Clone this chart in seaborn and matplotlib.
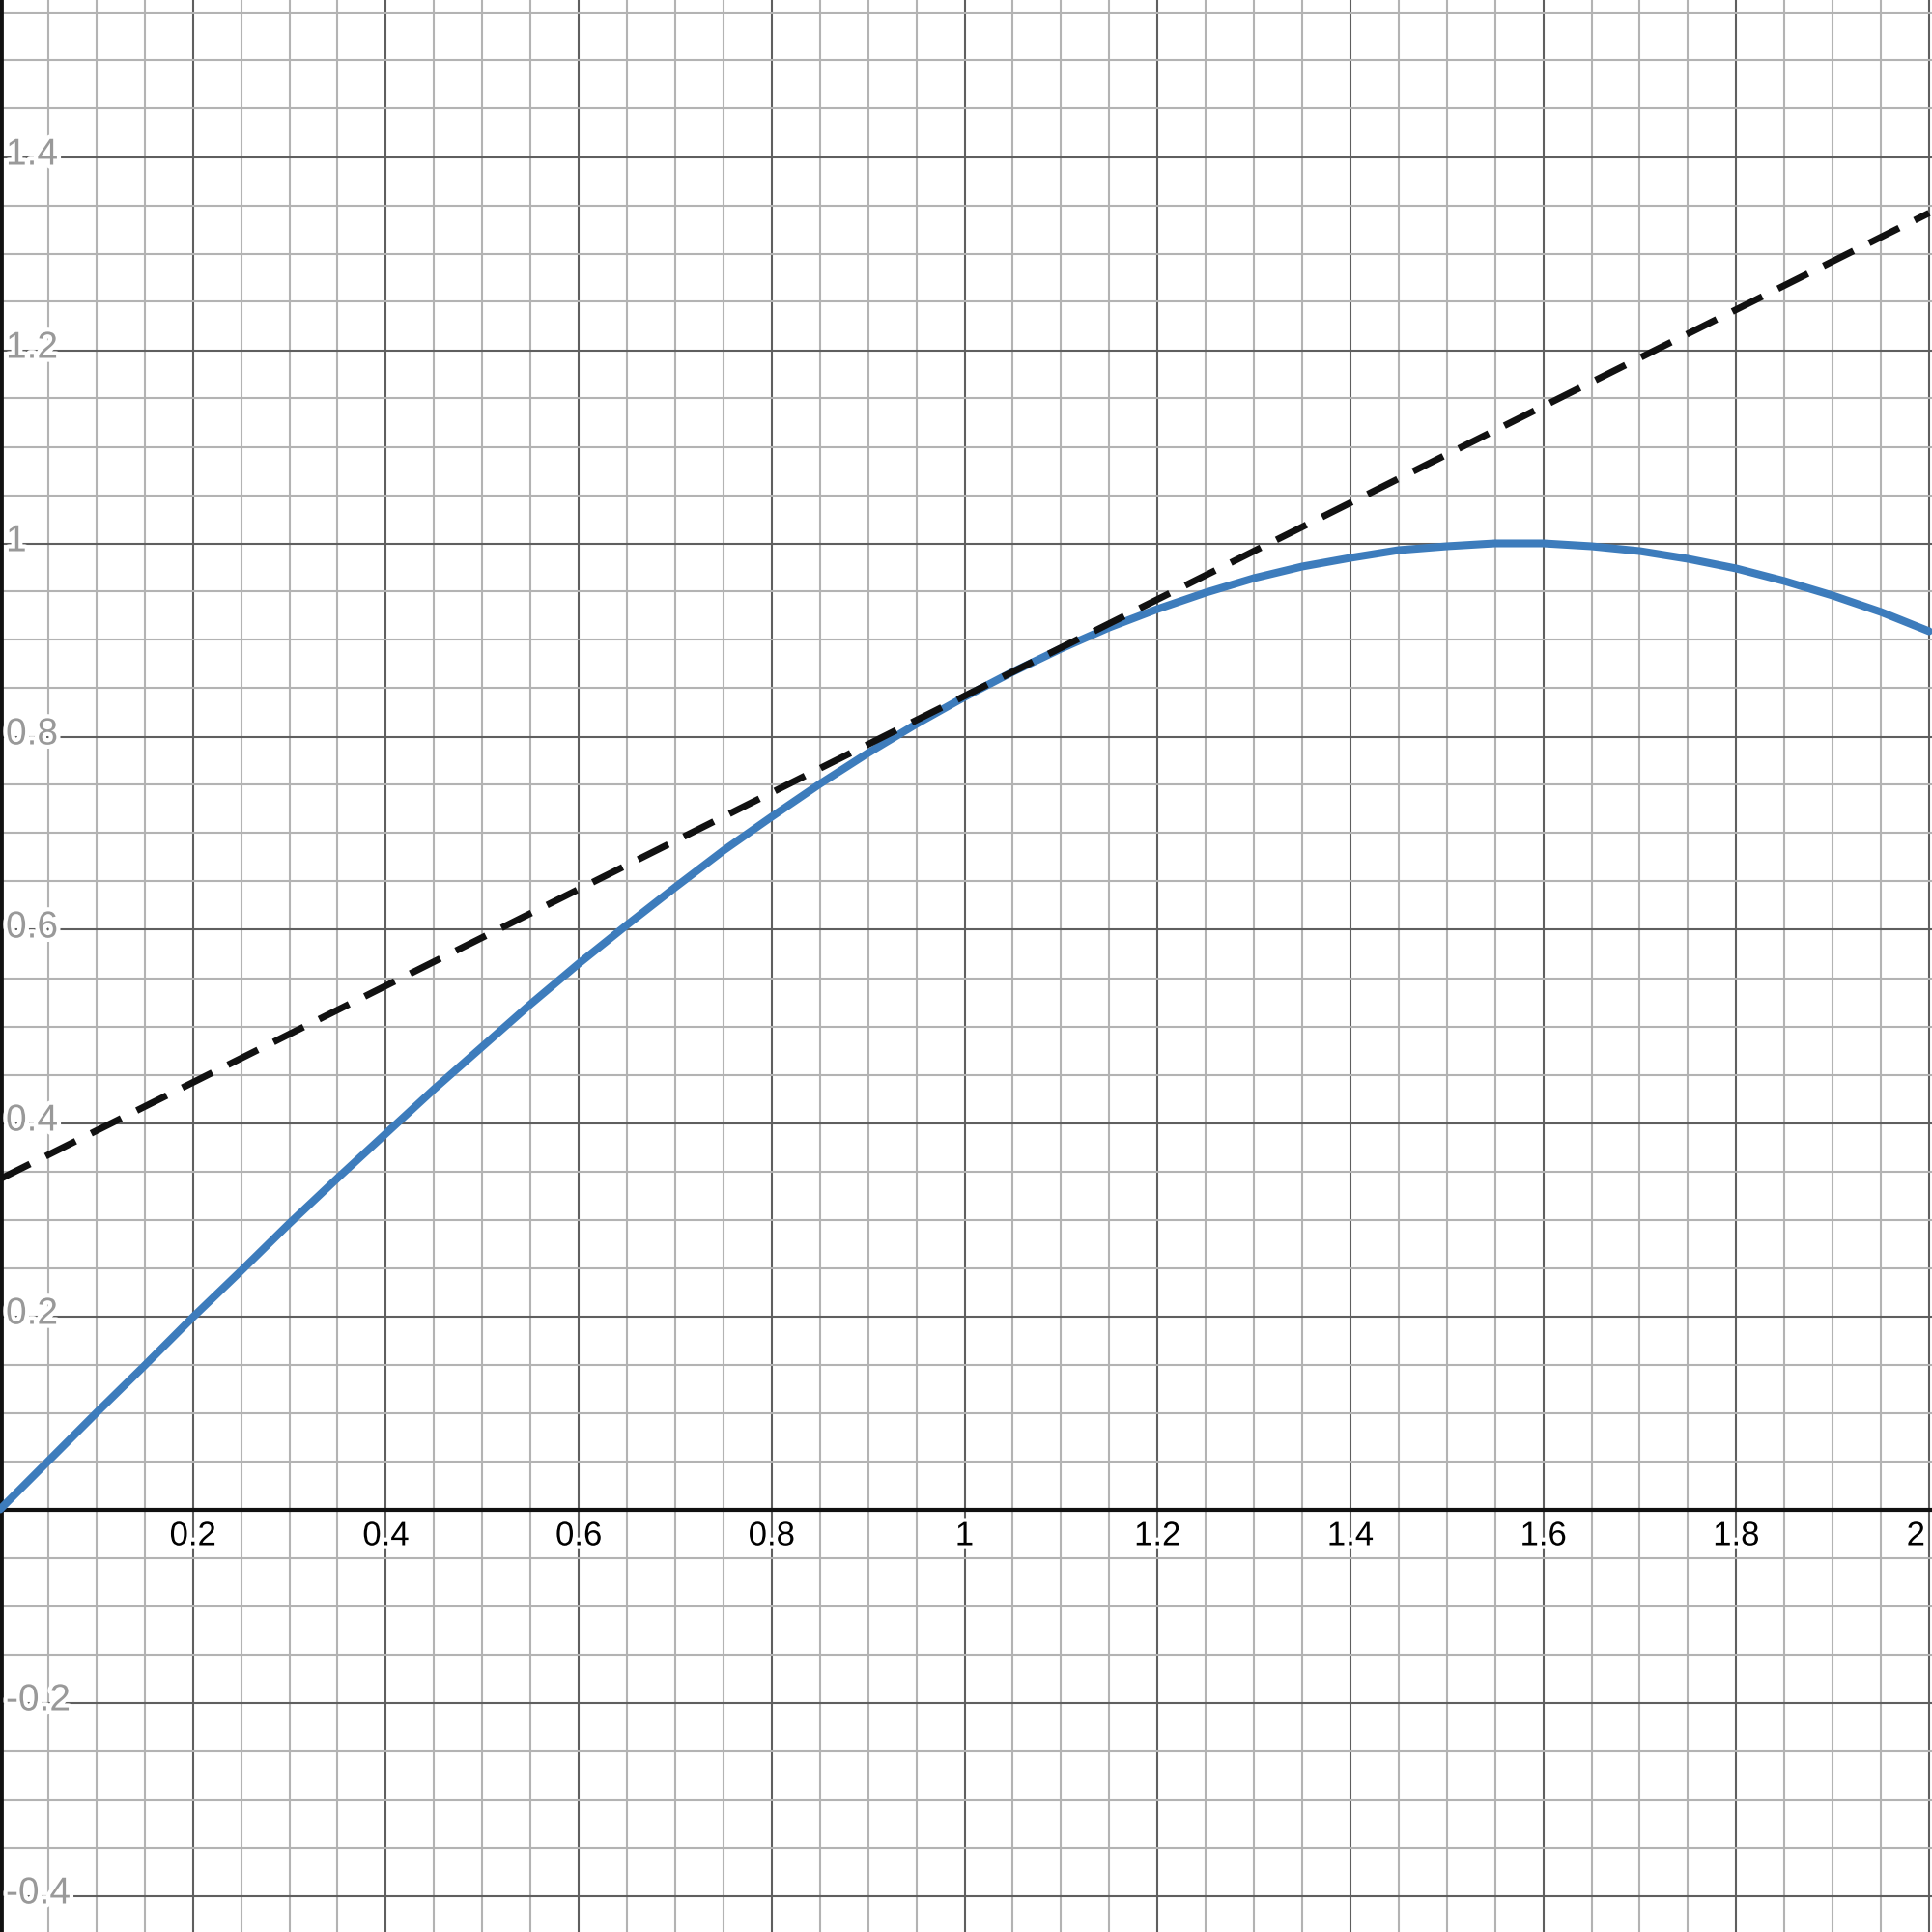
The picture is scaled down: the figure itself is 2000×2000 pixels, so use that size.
import matplotlib
matplotlib.use("Agg")
import matplotlib.pyplot as plt
import matplotlib.patheffects as pe
from matplotlib.ticker import MultipleLocator
import seaborn as sns
import pandas as pd

# curve (blue line)
curve_x = [0.00, 0.05, 0.10, 0.15, 0.20, 0.25, 0.30, 0.35, 0.40, 0.45,
           0.50, 0.55, 0.60, 0.65, 0.70, 0.75, 0.80, 0.85, 0.90, 0.95,
           1.00, 1.05, 1.10, 1.15, 1.20, 1.25, 1.30, 1.35, 1.40, 1.45,
           1.50, 1.55, 1.60, 1.65, 1.70, 1.75, 1.80, 1.85, 1.90, 1.95, 2.00]
curve_y = [0.000, 0.050, 0.100, 0.149, 0.199, 0.247, 0.296, 0.343, 0.389, 0.435,
           0.479, 0.523, 0.565, 0.605, 0.644, 0.682, 0.717, 0.751, 0.783, 0.813,
           0.841, 0.867, 0.891, 0.913, 0.932, 0.949, 0.964, 0.976, 0.985, 0.993,
           0.997, 1.000, 1.000, 0.997, 0.992, 0.984, 0.974, 0.961, 0.946, 0.929, 0.909]

# dashed line end points
line_x = [0.0, 2.0]
line_y = [0.342, 1.342]

x_ticks = [0.2, 0.4, 0.6, 0.8, 1.0, 1.2, 1.4, 1.6, 1.8, 2.0]
x_labels = ["0.2", "0.4", "0.6", "0.8", "1", "1.2", "1.4", "1.6", "1.8", "2"]
y_ticks = [1.4, 1.2, 1.0, 0.8, 0.6, 0.4, 0.2, -0.2, -0.4]
y_labels = ["1.4", "1.2", "1", "0.8", "0.6", "0.4", "0.2", "-0.2", "-0.4"]

sns.set_style("white")
plt.rcParams['font.family'] = ['Liberation Sans', 'DejaVu Sans']

fig = plt.figure(figsize=(10, 10), dpi=200)
ax = fig.add_axes([0, 0, 1, 1])
ax.set_xlim(0, 2.003)
ax.set_ylim(-0.4375, 1.5625)

# grid
ax.xaxis.set_major_locator(MultipleLocator(0.2))
ax.xaxis.set_minor_locator(MultipleLocator(0.05))
ax.yaxis.set_major_locator(MultipleLocator(0.2))
ax.yaxis.set_minor_locator(MultipleLocator(0.05))
ax.grid(which='minor', color='#b3b3b3', linewidth=0.75, zorder=0)
ax.grid(which='major', color='#5f5f5f', linewidth=0.75, zorder=0)
ax.set_axisbelow(True)
ax.tick_params(which='both', length=0, labelbottom=False, labelleft=False)
for s in ax.spines.values():
    s.set_visible(False)

# axes
ax.axhline(0, color='#111111', linewidth=1.5, zorder=2)
ax.axvline(0, color='#111111', linewidth=2.8, zorder=2)

df_curve = pd.DataFrame({'x': curve_x, 'y': curve_y})
df_line = pd.DataFrame({'x': line_x, 'y': line_y})
sns.lineplot(data=df_curve, x='x', y='y', ax=ax, color='#3d7cbc',
             linewidth=2.9, zorder=4, sort=False, solid_joinstyle='round',
             solid_capstyle='round')
sns.lineplot(data=df_line, x='x', y='y', ax=ax, color='#111111',
             linewidth=2.5, dashes=False, zorder=5, sort=False)
ax.lines[-1].set_dashes((5, 2.6))
ax.set_xlabel('')
ax.set_ylabel('')

halo = [pe.withStroke(linewidth=3, foreground='white')]
for xv, lab in zip(x_ticks, x_labels):
    if lab == "2":
        ax.text(xv - 0.004, -0.011, lab, ha='right', va='top', fontsize=12.5,
                color='black', path_effects=halo, zorder=3)
    else:
        ax.text(xv, -0.011, lab, ha='center', va='top', fontsize=12.5,
                color='black', path_effects=halo, zorder=3)
for yv, lab in zip(y_ticks, y_labels):
    ax.text(0.006, yv + 0.002, lab, ha='left', va='center', fontsize=14,
            color='#999999', path_effects=halo, zorder=3)

fig.savefig('out.png', dpi=200)
